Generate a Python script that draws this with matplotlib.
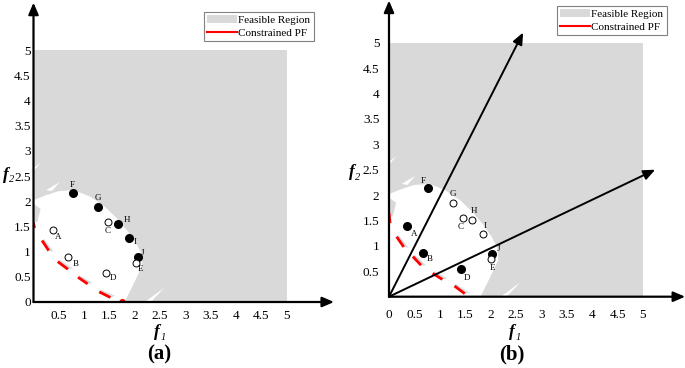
import numpy as np
import matplotlib
matplotlib.use('Agg')
import matplotlib.pyplot as plt
import matplotlib.patches as mpatches
from matplotlib.lines import Line2D

plt.rcParams['font.family'] = ['Liberation Serif', 'DejaVu Serif']

GRAY = '#d9d9d9'

# infeasible hole inside the [0,5]x[0,5] box (same for both panels)
hole_f1 = [0.0, 1.80, 1.95, 2.15, 2.14, 2.02, 1.85, 1.65, 1.40, 1.10, 0.80, 0.50, 0.25, 0.0]
hole_f2 = [0.0, 0.0, 0.30, 0.72, 0.95, 1.18, 1.42, 1.66, 1.90, 2.10, 2.22, 2.20, 2.12, 2.02]

# small white cuts in the feasible region
spike_f1 = [[0.0, 0.0, 0.14], [0.25, 0.36, 0.52], [2.20, 2.32, 2.58]]
spike_f2 = [[2.60, 2.66, 2.76], [2.22, 2.20, 2.38], [0.0, 0.0, 0.28]]

# feasible wedge along the f2 axis
wedge_f1 = [0.0, 0.0, 0.14, 0.08]
wedge_f2 = [1.55, 1.95, 1.85, 1.60]

# constrained PF pieces  [start, end]
pf_a_f1 = [[0.0, 0.02], [0.17, 0.30], [0.48, 0.68], [0.88, 1.07], [1.30, 1.52]]
pf_a_f2 = [[1.57, 1.47], [1.22, 1.02], [0.80, 0.65], [0.49, 0.36], [0.20, 0.09]]
pf_b_f1 = [[0.0, 0.02], [0.15, 0.29], [0.47, 0.63], [0.86, 1.05], [1.29, 1.49]]
pf_b_f2 = [[1.65, 1.45], [1.18, 0.98], [0.79, 0.62], [0.46, 0.34], [0.21, 0.06]]
pf_dot = (1.75, 0.0)

# panel (a) solutions
a_fill_lab = ['F', 'G', 'H', 'I', 'J']
a_fill_f1 = [0.79, 1.28, 1.67, 1.88, 2.06]
a_fill_f2 = [2.16, 1.88, 1.54, 1.26, 0.89]
a_open_lab = ['A', 'B', 'C', 'D', 'E']
a_open_f1 = [0.38, 0.69, 1.48, 1.44, 2.03]
a_open_f2 = [1.43, 0.90, 1.59, 0.58, 0.78]
a_text = {'F': (0.76, 2.33), 'G': (1.28, 2.06), 'H': (1.84, 1.63), 'I': (2.0, 1.20),
          'J': (2.16, 0.98), 'A': (0.48, 1.28), 'B': (0.83, 0.75), 'C': (1.46, 1.40),
          'D': (1.57, 0.47), 'E': (2.12, 0.66)}

# panel (b) solutions
b_fill_lab = ['F', 'A', 'B', 'D', 'J']
b_fill_f1 = [0.77, 0.36, 0.67, 1.41, 2.03]
b_fill_f2 = [2.13, 1.40, 0.86, 0.55, 0.85]
b_open_lab = ['G', 'C', 'H', 'I', 'E']
b_open_f1 = [1.26, 1.46, 1.64, 1.85, 2.00]
b_open_f2 = [1.85, 1.55, 1.51, 1.23, 0.75]
b_text = {'F': (0.67, 2.28), 'G': (1.26, 2.02), 'H': (1.67, 1.69), 'C': (1.41, 1.37),
          'I': (1.89, 1.39), 'J': (2.16, 0.93), 'E': (2.03, 0.57), 'A': (0.50, 1.24),
          'B': (0.80, 0.74), 'D': (1.53, 0.37)}

# reference directions in (b)
ray_f1 = [2.64, 5.24]
ray_f2 = [5.20, 2.50]

W, H = 685, 368
fig = plt.figure(figsize=(W / 100, H / 100), dpi=100)


def make_axes(x0, y0, unit_x, unit_y, lim):
    ax = fig.add_axes([x0 / W, (H - y0) / H, lim * unit_x / W, lim * unit_y / H])
    ax.set_xlim(0, lim)
    ax.set_ylim(0, lim)
    for s in ax.spines.values():
        s.set_visible(False)
    ax.tick_params(length=0, labelsize=9.5)
    return ax


def draw_region(ax, pf_f1, pf_f2):
    ax.add_patch(mpatches.Rectangle((0, 0), 5, 5, facecolor=GRAY, edgecolor='none', zorder=0))
    ax.fill(hole_f1, hole_f2, color='white', lw=0, zorder=1)
    for xs, ys in zip(spike_f1, spike_f2):
        ax.fill(xs, ys, color='white', lw=0, zorder=1)
    ax.fill(wedge_f1, wedge_f2, color=GRAY, lw=0, zorder=2)
    # feasible slivers along the PF pieces
    for xs, ys in zip(pf_f1[1:], pf_f2[1:]):
        p0 = np.array([xs[0], ys[0]])
        p1 = np.array([xs[1], ys[1]])
        t = (p1 - p0) / np.linalg.norm(p1 - p0)
        n = np.array([-t[1], t[0]])
        if n[0] + n[1] < 0:
            n = -n
        poly = np.array([p0, p1, p1 + 0.07 * n + 0.07 * t, p0 + 0.05 * n])
        ax.fill(poly[:, 0], poly[:, 1], color=GRAY, lw=0, zorder=2)
    for xs, ys in zip(pf_f1, pf_f2):
        ax.plot(xs, ys, color='red', lw=2.0, solid_capstyle='butt', zorder=3)


def draw_arrows(ax, tip):
    kw = dict(arrowstyle='-|>,head_length=0.7,head_width=0.3', color='black', lw=1.6,
              shrinkA=0, shrinkB=0)
    ax.annotate('', xy=(tip, 0), xytext=(0, 0), arrowprops=kw, annotation_clip=False, zorder=6)
    ax.annotate('', xy=(0, tip), xytext=(0, 0), arrowprops=kw, annotation_clip=False, zorder=6)


def draw_points(ax, fill_f1, fill_f2, open_f1, open_f2, labels):
    ax.plot(fill_f1, fill_f2, 'o', color='black', ms=5.5, zorder=5)
    ax.plot(open_f1, open_f2, 'o', mfc='white', mec='black', mew=0.7, ms=5, zorder=5)
    for k, (x, y) in labels.items():
        ax.text(x, y, k, fontsize=6.5, ha='center', va='center', zorder=6)


def add_legend(ax, x0, y0):
    handles = [mpatches.Patch(facecolor=GRAY, edgecolor='none', label='Feasible Region'),
               Line2D([], [], color='red', lw=1.5, label='Constrained PF')]
    leg = ax.legend(handles=handles, loc='upper left', bbox_to_anchor=(x0 / W, 1 - y0 / H),
                    bbox_transform=fig.transFigure, borderaxespad=0, fontsize=8,
                    fancybox=False, handlelength=2.7, handletextpad=0.1, borderpad=0.3,
                    labelspacing=0.25, framealpha=1)
    leg.get_frame().set_edgecolor('#808080')
    leg.get_frame().set_linewidth(0.8)


def axis_name(x, y, sub):
    # italic bold "f" with a small italic subscript, placed in figure pixels
    fig.text(x / W, 1 - y / H, 'f', fontsize=12.5, fontstyle='italic', fontweight='bold',
             ha='center', va='center')
    fig.text((x + 6) / W, 1 - (y + 5) / H, sub, fontsize=7.5, fontstyle='italic',
             ha='center', va='center')


ticks = [0.5, 1, 1.5, 2, 2.5, 3, 3.5, 4, 4.5, 5]
ticks_lab = ['0.5', '1', '1.5', '2', '2.5', '3', '3.5', '4', '4.5', '5']

# ---- panel (a)
ax1 = make_axes(33.5, 302, 50.6, 50.4, 6.0)
draw_region(ax1, pf_a_f1, pf_a_f2)
ax1.plot(*pf_dot, 'o', color='red', ms=4, zorder=4)
draw_points(ax1, a_fill_f1, a_fill_f2, a_open_f1, a_open_f2, a_text)
draw_arrows(ax1, 5.94)
add_legend(ax1, 204, 12)
ax1.set_xticks(ticks, ticks_lab)
ax1.set_yticks([0] + ticks, ['0'] + ticks_lab)
ax1.tick_params(axis='x', pad=6)
ax1.tick_params(axis='y', pad=2)

# ---- panel (b)
ax2 = make_axes(389, 296.7, 50.8, 50.8, 5.85)
draw_region(ax2, pf_b_f1, pf_b_f2)
draw_points(ax2, b_fill_f1, b_fill_f2, b_open_f1, b_open_f2, b_text)
for rx, ry in zip(ray_f1, ray_f2):
    ax2.annotate('', xy=(rx, ry), xytext=(0, 0), annotation_clip=False, zorder=4,
                 arrowprops=dict(arrowstyle='-|>,head_length=0.7,head_width=0.3',
                                 color='black', lw=1.4, shrinkA=0, shrinkB=0))
draw_arrows(ax2, 5.83)
add_legend(ax2, 557, 6)
ax2.set_xticks([0] + ticks, ['0'] + ticks_lab)
ax2.set_yticks(ticks, ticks_lab)
ax2.tick_params(axis='x', pad=9)
ax2.tick_params(axis='y', pad=7)

# axis labels and panel captions
axis_name(6, 175, '2')
axis_name(157, 332, '1')
axis_name(352, 172, '2')
axis_name(512, 332, '1')
fig.text(159 / W, 1 - 354 / H, '(a)', fontsize=15, fontweight='bold', ha='center', va='center')
fig.text(512 / W, 1 - 354 / H, '(b)', fontsize=15, fontweight='bold', ha='center', va='center')

fig.savefig('out.png', dpi=100)
